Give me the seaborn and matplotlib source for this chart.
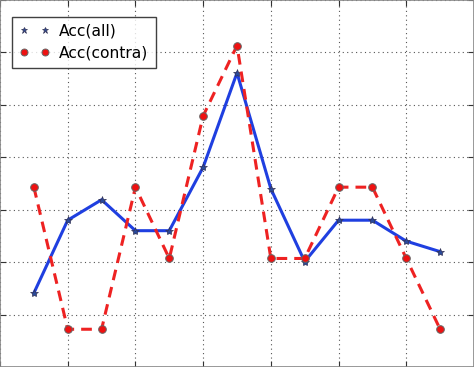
import numpy as np
import pandas as pd
import matplotlib
matplotlib.use("Agg")
import matplotlib.pyplot as plt
import seaborn as sns

x_idx = list(range(1, 14))
acc_all = [1.41, 2.80, 3.19, 2.60, 2.60, 3.81, 5.61, 3.40, 2.01, 2.80, 2.80, 2.40, 2.20]
acc_contra = [3.43, 0.72, 0.72, 3.43, 2.07, 4.79, 6.13, 2.07, 2.07, 3.43, 3.43, 2.07, 0.72]
labels = ["Acc(all)", "Acc(contra)"]

sns.set_style("white")
plt.rcParams['font.family'] = ['DejaVu Sans']
plt.rcParams['text.color'] = 'black'

fig = plt.figure(figsize=(4.74, 3.67), dpi=100)
ax = fig.add_axes([0, 0, 1, 1])

df = pd.DataFrame({"x": x_idx, "all": acc_all, "contra": acc_contra})
sns.lineplot(data=df, x="x", y="all", ax=ax, color="#1f3fe0", lw=2.2,
             marker="*", markersize=6, markerfacecolor="#2a4a9a",
             markeredgecolor="#333355", markeredgewidth=0.5, label=labels[0])
sns.lineplot(data=df, x="x", y="contra", ax=ax, color="#ee2222", lw=2.2,
             linestyle=(0, (3.5, 2.3)), marker="o", markersize=5.5,
             markerfacecolor="#ee1111", markeredgecolor="#666666",
             markeredgewidth=0.7, label=labels[1])

ax.set_xlim(0, 14)
ax.set_ylim(0, 7)
ax.set_xticks(np.arange(0, 15, 2))
ax.set_yticks(np.arange(0, 8, 1))
ax.set_xticklabels([])
ax.set_yticklabels([])
ax.set_xlabel("")
ax.set_ylabel("")
ax.tick_params(direction="in", length=4, width=0.8, colors="#333333",
               top=True, right=True, bottom=True, left=True)
ax.grid(True, linestyle=(0, (1, 3)), color="#555555", linewidth=0.8)
for s in ax.spines.values():
    s.set_color("#888888")
    s.set_linewidth(1.2)

leg = ax.legend(loc="upper left", bbox_to_anchor=(0.025, 0.955), numpoints=2,
                frameon=True, fancybox=False, fontsize=11.2,
                handlelength=2.0, borderpad=0.45, labelspacing=0.45,
                handletextpad=0.6, borderaxespad=0)
leg.get_frame().set_edgecolor("#111111")
leg.get_frame().set_linewidth(1.0)
for t in leg.get_texts():
    t.set_color("black")
for h in leg.get_lines():
    h.set_linestyle("none")
    h.set_markersize(5)

fig.savefig("out.png", dpi=100)
